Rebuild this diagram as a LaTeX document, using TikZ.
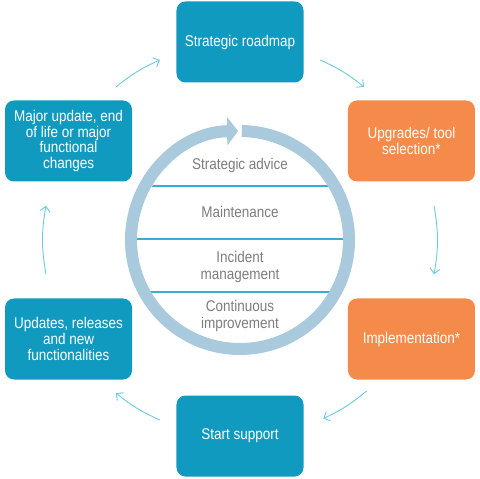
\documentclass[tikz,border=0pt]{standalone}
\usepackage{fontspec}
\setmainfont[FakeStretch=0.87]{Liberation Sans}
\usetikzlibrary{arrows.meta,positioning}
\definecolor{stageblue}{RGB}{16,154,192}
\definecolor{stageorange}{RGB}{244,139,74}
\definecolor{ringblue}{RGB}{169,202,220}
\definecolor{sepblue}{RGB}{60,172,212}
\definecolor{flowcyan}{RGB}{110,200,225}
\definecolor{txtgray}{RGB}{125,125,125}
\tikzset{
  stage/.style={rectangle, rounded corners=9bp, minimum width=127bp, minimum height=81bp,
    inner sep=0pt, text=white, align=center, font=\fontsize{15.5bp}{15.8bp}\selectfont},
  blue stage/.style={stage, fill=stageblue},
  orange stage/.style={stage, fill=stageorange},
  flow/.style={draw=flowcyan, line width=0.9bp, -{Straight Barb[length=5bp,width=10bp]}},
  cycle ring/.style={draw=ringblue, line width=12bp, -{Triangle[length=11bp,width=28bp]}},
  activity/.style={text=txtgray, align=center, font=\fontsize{15.5bp}{17bp}\selectfont},
}

\begin{document}
\begin{tikzpicture}[x=1bp,y=1bp]
    \useasboundingbox (-240,-239) rectangle (240,240);

              % Define stages around the cycle
              \node[blue stage] (roadmap) at (90:198) {Strategic roadmap};
              \node[orange stage] (upgrades) at (30:198) {Upgrades/ tool\\selection*};
              \node[orange stage] (implement) at (-30:198) {Implementation*};
              \node[blue stage] (support) at (-90:196) {Start support};
              \node[blue stage] (updates) at (210:198) {Updates, releases\\and new\\functionalities};
              \node[blue stage] (major) at (150:198) {Major update, end\\of life or major\\functional\\changes};

              % Ends of the thin arcs between stages
              \foreach \s/\e/\n in {66/51/1, 10/-10/2, -50/-65/3, -114/-129/4, 190/170/5, 129/114/6}{
                \coordinate (s\n) at (\s:197);
                \coordinate (e\n) at (\e:197);
              }

              % Draw thin arrows
              \path
                (s1) edge[flow, bend left=7.5] (e1)
                (s2) edge[flow, bend left=10] (e2)
                (s3) edge[flow, bend left=7.5] (e3)
                (s4) edge[flow, bend left=7.5] (e4)
                (s5) edge[flow, bend left=10] (e5)
                (s6) edge[flow, bend left=7.5] (e6);

              % Central ring
              \draw[cycle ring] (89:109) arc[start angle=89, end angle=-269, radius=109];
              \begin{scope}
                \clip (0,0) circle (103);
                \foreach \y in {54,1,-52}
                  \draw[sepblue, line width=1.3bp] (-110,\y) -- (110,\y);
              \end{scope}

              % Activities inside the ring
              \node[activity] (advice) at (0,75) {Strategic advice};
              \node[activity] (maint) at (0,28) {Maintenance};
              \node[activity] (incident) at (0,-27) {Incident\\management};
              \node[activity] (improve) at (0,-76) {Continuous\\improvement};
            \end{tikzpicture}
\end{document}
